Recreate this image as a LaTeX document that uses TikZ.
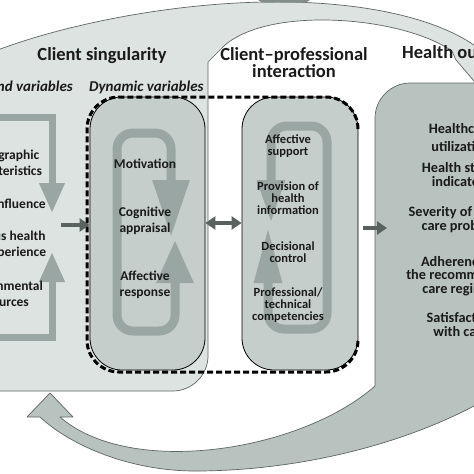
\documentclass[tikz,border=0pt]{standalone}
\usepackage{fontspec}
\setmainfont{Carlito}
\usetikzlibrary{arrows.meta}
\definecolor{lightreg}{HTML}{DDE3E1}
\definecolor{boxfill}{HTML}{C6CECB}
\definecolor{healthfill}{HTML}{B8C2BF}
\definecolor{lightarr}{HTML}{9AA6A3}
\definecolor{darkarr}{HTML}{59625F}
\definecolor{edge}{HTML}{5E6664}
\definecolor{txt}{HTML}{1A1A1A}
\tikzset{
  region/.style={draw=edge, line width=0.7pt, line join=round},
  roundbox/.style={draw=black, line width=0.8pt, fill=boxfill, rounded corners=32pt, inner sep=0pt},
  looparr/.style={draw=lightarr, line width=9pt, rounded corners=16pt},
  darklink/.style={draw=darkarr, line width=4.5pt},
  titletext/.style={font=\bfseries\fontsize{18.5}{15}\selectfont, text=txt, inner sep=0pt, align=center},
  subtext/.style={font=\bfseries\itshape\fontsize{15}{17}\selectfont, text=txt, inner sep=0pt},
  bodytext/.style={font=\bfseries\fontsize{13.5}{16}\selectfont, text=txt, inner sep=0pt, align=center},
  smalltext/.style={font=\bfseries\fontsize{12.5}{12}\selectfont, text=txt, inner sep=0pt, align=center},
  healthtext/.style={font=\bfseries\fontsize{14.3}{13.5}\selectfont, text=txt, inner sep=0pt, align=center},
}
\begin{document}
\begin{tikzpicture}[x=1pt, y=-1pt]
\useasboundingbox (0,0) rectangle (474,474);
\fill[white] (0,0) rectangle (474,474);
\begin{scope}
\clip (0,0) rectangle (474,474);
% health outcomes region with the returning arrow
\draw[region, fill=healthfill] (375,386) -- (375,118) .. controls (375,99) and (391,83) .. (410,83)
  -- (490,83) -- (490,400) -- (474,406)
  .. controls (400,445) and (300,470) .. (200,471)
  .. controls (130,472) and (70,445) .. (40,417)
  -- (27,417) -- (50,393) -- (73,417) -- (60,417)
  .. controls (130,478) and (300,452) .. (375,386) -- cycle;
% client singularity region with the top arrow
\draw[region, fill=lightreg] (-10,53) .. controls (60,25) and (180,0) .. (290,2)
  .. controls (380,4) and (440,22) .. (474,45)
  -- (510,50) -- (492,102) -- (456,60) -- (452,51)
  .. controls (400,15) and (260,5) .. (220,50) -- (208,62) -- (208,356)
  .. controls (208,375) and (192,391) .. (173,391) -- (-10,391) -- cycle;
\fill[lightarr!85!black] (258,0) -- (310,0) -- (306,2.5) -- (262,2.5) -- cycle;
\end{scope}

% inner boxes
\node[roundbox, minimum width=115pt, minimum height=273pt] (dyn) at (147.5,233.5) {};
\node[roundbox, minimum width=116pt, minimum height=273pt] (inter) at (300,233.5) {};
\draw[black, line width=3pt, dash pattern=on 6pt off 3pt, rounded corners=32pt]
  (358,129) -- (358,97) -- (87,97) -- (87,372) -- (358,372) -- (358,340);

% loops
\draw[looparr, {Triangle[length=57pt,width=35pt]}-{Triangle[length=43pt,width=35pt]}]
  (171,237) -- (171,133) -- (117,133) -- (117,331) -- (175,331) -- (175,240);
\draw[looparr, {Triangle[length=43pt,width=26pt]}-{Triangle[length=56pt,width=26pt]}]
  (271,223) -- (271,126) -- (327,126) -- (327,329) -- (268,329) -- (268,227);
% background bracket arrows
\draw[looparr, line width=7pt, rounded corners=0pt, -{Triangle[length=30pt,width=24pt]}]
  (-10,117) -- (52,117) -- (52,213);
\draw[looparr, line width=7pt, rounded corners=0pt, -{Triangle[length=30pt,width=24pt]}]
  (-10,337) -- (52,337) -- (52,252);

% dark connectors
\coordinate (bgA) at (61,225);
\coordinate (dA) at (0,223);
\coordinate (hIn) at (387,228);
\draw[darklink, -{Triangle[length=10pt,width=13pt]}] (bgA) -- (dyn.west |- bgA);
\draw[darklink, {Triangle[length=10pt,width=13pt]}-{Triangle[length=10pt,width=13pt]}]
  (dyn.east |- dA) -- (inter.west |- dA);
\draw[darklink, -{Triangle[length=10pt,width=13pt]}, shorten <=5pt] (inter.east |- hIn) -- (hIn);

% titles
\node[titletext] (cs) at (102,56) {Client singularity};
\node[titletext] (cp) at (294,63) {Client–professional\\interaction};
\node[titletext, anchor=west] (ho) at (402,52) {Health outcomes};
\node[subtext, anchor=east] (bv) at (73,87) {Background variables};
\node[subtext, anchor=west] (dv) at (89,87) {Dynamic variables};

% background variables
\node[bodytext] (demo) at (2,163) {Demographic\\characteristics};
\node[bodytext] (soc) at (2,204) {Social influence};
\node[bodytext] (prev) at (2,245) {Previous health\\care experience};
\node[bodytext] (env) at (2,294) {Environmental\\resources};

% dynamic variables
\node[bodytext] (mot) at (145,164) {Motivation};
\node[bodytext] (cog) at (145,221) {Cognitive\\appraisal};
\node[bodytext] (aff) at (145,285) {Affective\\response};

% interaction
\node[smalltext] (asup) at (288,146) {Affective\\support};
\node[smalltext] (prov) at (288,198.5) {Provision of\\health\\information};
\node[smalltext] (dec) at (288,252.5) {Decisional\\control};
\node[smalltext] (prof) at (288,305.5) {Professional/\\technical\\competencies};

% health outcomes
\node[healthtext] (hcu) at (461,137.5) {Healthcare\\[5pt]utilization};
\node[healthtext] (hsi) at (461,174.5) {Health status\\indicators};
\node[healthtext] (sev) at (461,219.5) {Severity of health\\care problem};
\node[healthtext] (adh) at (461,276) {Adherence to\\the recommended\\care regimen};
\node[healthtext] (sat) at (461,324.5) {Satisfaction\\with care};
\end{tikzpicture}
\end{document}
